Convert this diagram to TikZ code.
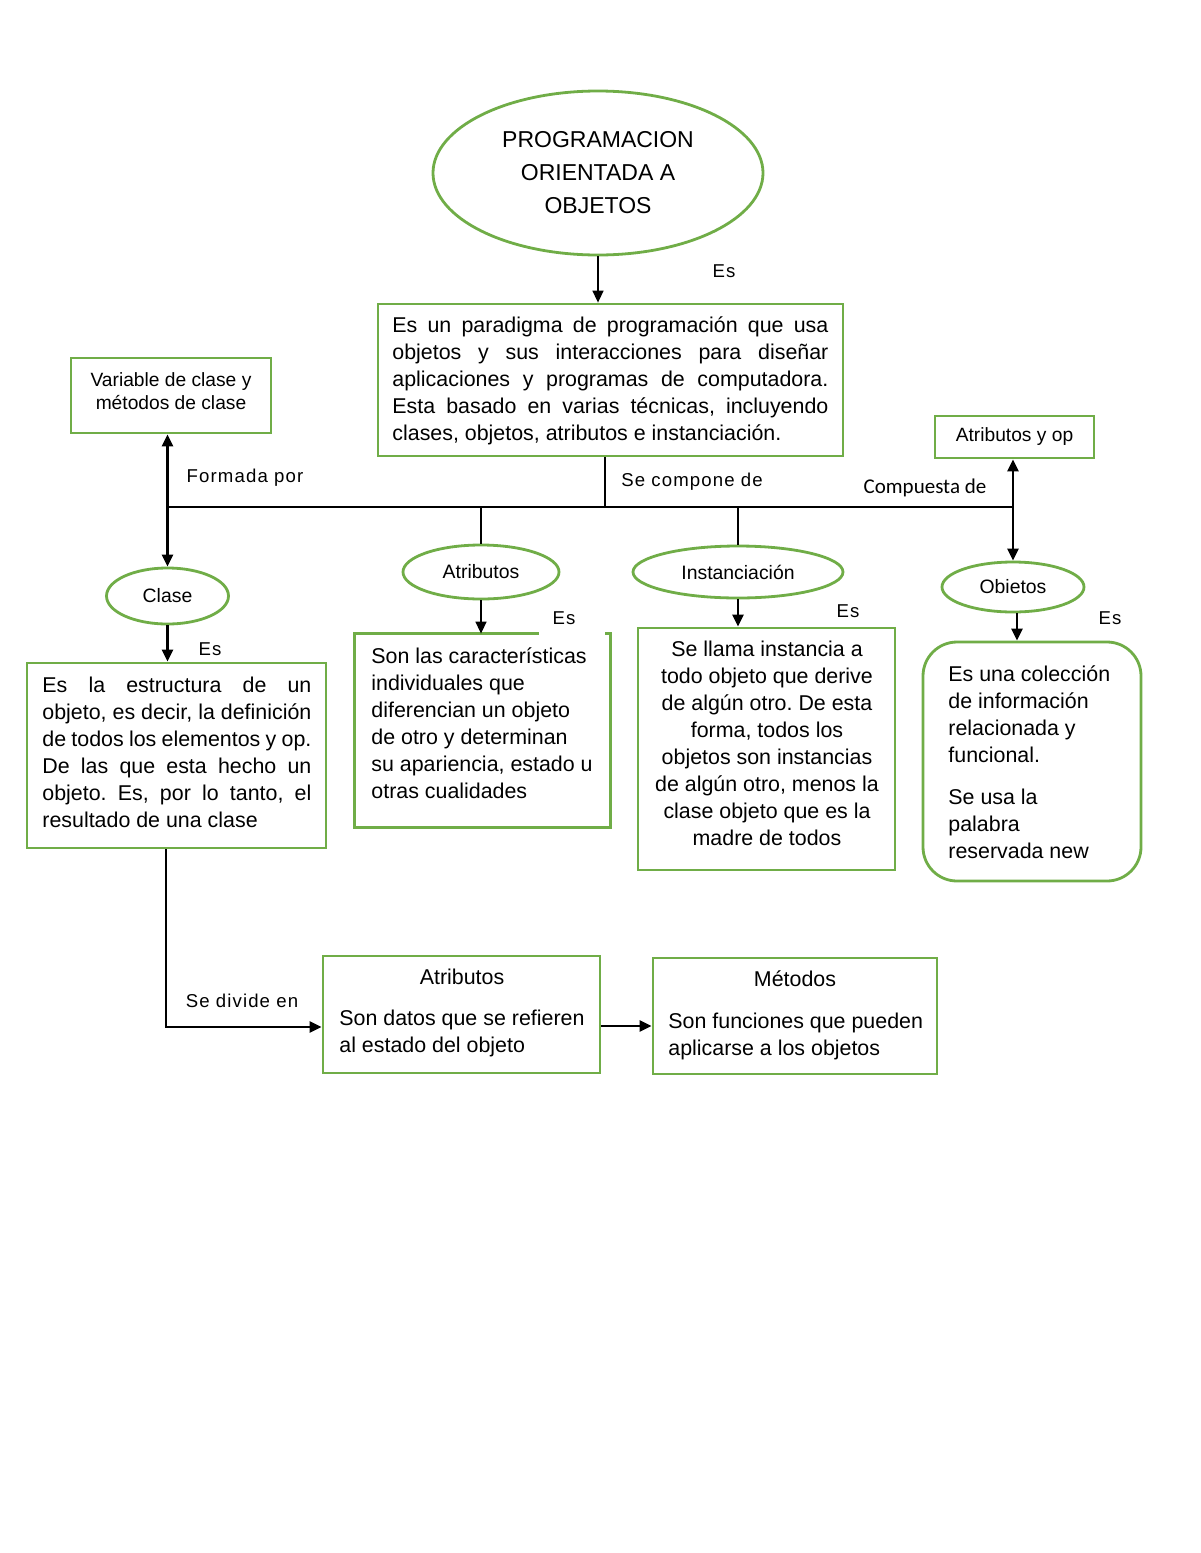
\documentclass[tikz,border=0pt]{standalone}
\usepackage{fontspec}
\setmainfont{Liberation Sans}
\newfontfamily\carlito{Carlito}
\newfontfamily\lblfont[LetterSpace=6]{Liberation Sans}
\usetikzlibrary{shapes.geometric,arrows.meta}
\definecolor{ogreen}{HTML}{70AD47}
\newcommand\jm[1]{\makebox[218pt][s]{#1}}
\newcommand\jc[1]{\makebox[134.5pt][s]{#1}}
\tikzset{
 gbox/.style={draw=ogreen, line width=1.4pt, rectangle, inner sep=0pt},
 gell/.style={draw=ogreen, line width=1.4pt, ellipse, inner sep=0pt, font=\fontsize{9.7}{11}\selectfont},
 body/.style={inner sep=0pt, font=\fontsize{10.7}{13.5}\selectfont},
 lbl/.style={inner sep=0pt, font=\lblfont\fontsize{9.3}{11}\selectfont},
 conthin/.style={line width=0.75pt},
 conthick/.style={line width=1.3pt},
 tip/.style={-{Triangle[width=5.5pt,length=6pt]}},
 dtip/.style={{Triangle[width=5.5pt,length=6pt]}-{Triangle[width=5.5pt,length=6pt]}},
}
\begin{document}
\frenchspacing
\begin{tikzpicture}[x=0.5pt,y=-0.5pt]
\fill[white] (0,0) rectangle (1200,1553);
\useasboundingbox (0,0) rectangle (1200,1553);

% top
\node[gell, minimum width=165pt, minimum height=82pt, font=\fontsize{11.5}{16.5}\selectfont, align=center] (poo) at (598,173) {PROGRAMACION\\ORIENTADA A\\OBJETOS};
\node[gbox, minimum width=232.5pt, minimum height=76pt] (main) at (610.5,380) {};
\node[body, anchor=west, align=left] (maintxt) at (392,380.5) {\jm{Es un paradigma de programación que usa}\\\jm{objetos y sus interacciones para diseñar}\\\jm{aplicaciones y programas de computadora.}\\\jm{Esta basado en varias técnicas, incluyendo}\\clases, objetos, atributos e instanciación.};

\node[gbox, minimum width=100pt, minimum height=37.5pt] (var) at (171,395.5) {};
\node[align=center, inner sep=0pt, font=\fontsize{9.6}{11.5}\selectfont] (vartxt) at (171,391) {Variable de clase y\\métodos de clase};
\node[gbox, minimum width=79.5pt, minimum height=21pt, font=\fontsize{9.6}{11.5}\selectfont] (atrop) at (1014.5,437) {Atributos y op};

% ellipses
\node[gell, minimum width=61pt, minimum height=28pt] (clase) at (167.5,596) {Clase};
\node[gell, minimum width=78pt, minimum height=27pt] (atr) at (481,572) {Atributos};
\node[gell, minimum width=105pt, minimum height=26pt] (inst) at (738,572) {Instanciación};
\node[gell, minimum width=71pt, minimum height=25pt] (obj) at (1013,587) {Obietos};

% boxes
\node[gbox, minimum width=149.5pt, minimum height=92.5pt] (clasebox) at (176.5,755.5) {};
\node[body, anchor=west, align=left] (clasetxt) at (42,752) {\jc{Es la estructura de un}\\\jc{objeto, es decir, la definición}\\\jc{de todos los elementos y op.}\\\jc{De las que esta hecho un}\\\jc{objeto. Es, por lo tanto, el}\\resultado de una clase};

\node[inner sep=0pt, minimum width=127.5pt, minimum height=96.5pt] (atrtbox) at (482.5,730.5) {};
\draw[ogreen, line width=1.4pt] ([xshift=-2.5pt]atrtbox.north east) -- (atrtbox.north east) -- (atrtbox.south east) -- (atrtbox.south west) -- (atrtbox.north west) -- ([xshift=92pt]atrtbox.north west);
\node[body, anchor=west, align=left] (atrtxt) at (371,723.5) {Son las características\\individuales que\\diferencian un objeto\\de otro y determinan\\su apariencia, estado u\\otras cualidades};

\node[gbox, minimum width=128.5pt, minimum height=121pt] (instbox) at (766.5,749) {};
\node[body, align=center] (insttxt) at (767,743) {Se llama instancia a\\todo objeto que derive\\de algún otro. De esta\\forma, todos los\\objetos son instancias\\de algún otro, menos la\\clase objeto que es la\\madre de todos};

\node[gbox, rounded corners=17pt, minimum width=109pt, minimum height=119.5pt] (objbox) at (1032,761.5) {};
\node[body, anchor=west, align=left] (objtxt) at (948,762.5) {Es una colección\\de información\\relacionada y\\funcional.\\[7.5pt]Se usa la\\palabra\\reservada new};

% bottom
\node[gbox, minimum width=138.5pt, minimum height=58.5pt] (atrb) at (461.5,1014.5) {};
\node[body] (atrbT) at (462,977) {Atributos};
\node[body, anchor=west, align=left] (atrbB) at (339,1033) {Son datos que se refieren\\al estado del objeto};
\node[gbox, minimum width=142pt, minimum height=58pt] (met) at (795,1016) {};
\node[body] (metT) at (795,979) {Métodos};
\node[body, anchor=west, align=left] (metB) at (668,1036.5) {Son funciones que pueden\\aplicarse a los objetos};

% labels
\node[lbl] (es1) at (724,271) {Es};
\node[lbl] (formada) at (245,478) {Formada por};
\node[lbl] (secomp) at (692,482) {Se compone de};
\node[inner sep=0pt, font=\carlito\fontsize{10.5}{12}\selectfont] (compuesta) at (925,488) {Compuesta de};
\node[lbl] (es2) at (210,649) {Es};
\node[lbl] (es3) at (564,618) {Es};
\node[lbl] (es4) at (848,611) {Es};
\node[lbl] (es5) at (1110,618) {Es};
\node[lbl] (sediv) at (242,1001) {Se divide en};

% connectors
\coordinate (busL) at (167.5,507);
\coordinate (busR) at (1012.5,507);
\coordinate (busM) at (605,507);
\draw[conthin, tip] (poo.south) -- (poo.south |- main.north);
\draw[conthin] (busL) -- (busR);
\draw[conthin] (main.south -| busM) -- (busM);
\draw[conthick, dtip] (clase.north |- var.south) -- (clase.north);
\draw[conthin] (atr.north |- busM) -- (atr.north);
\draw[conthin] (inst.north |- busM) -- (inst.north);
\draw[conthick, dtip] (obj.north |- atrop.south) -- (obj.north);
\draw[conthick, tip] (clase.south) -- (clase.south |- clasebox.north);
\draw[conthin, tip] (atr.south) -- (atr.south |- atrtbox.north);
\draw[conthick, tip] (inst.south) -- (inst.south |- instbox.north);
\draw[conthick, tip] ([xshift=2pt]obj.south) -- ([xshift=2pt]obj.south |- objbox.north);
\draw[conthick, tip] (166,0 |- clasebox.south) |- (atrb.west |- 0,1027);
\draw[conthick, tip] (atrb.east |- 0,1026) -- (met.west |- 0,1026);
\end{tikzpicture}
\end{document}
